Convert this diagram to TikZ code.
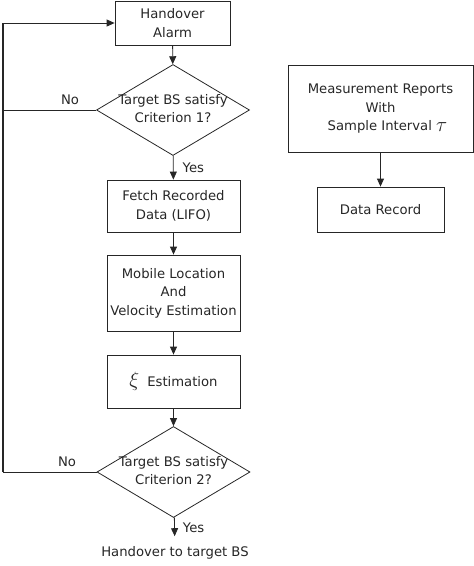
\documentclass[tikz,border=0pt]{standalone}
\usepackage{fontspec}
\setmainfont{DejaVu Sans}
\usetikzlibrary{shapes.geometric,arrows.meta}
\begin{document}
\begin{tikzpicture}[x=1pt,y=-1pt,
  font=\fontsize{13.2}{18.5}\selectfont,
  line width=0.8pt, draw=black!85, text=black!85,
  box/.style={draw, rectangle, align=center, inner sep=0pt},
  dec/.style={draw, diamond, inner sep=0pt, minimum width=153pt, minimum height=91pt},
  arr/.style={-{Triangle[length=8pt,width=7pt]}},
  lbl/.style={inner sep=1pt}]
\useasboundingbox (0,0) rectangle (474,566);
\node[box, minimum width=115pt, minimum height=44pt] (alarm) at (172.5,23) {Handover\\Alarm};
\node[dec] (d1) at (173,110) {\makebox[0pt]{\begin{tabular}{@{}c@{}}Target BS satisfy\\Criterion 1?\end{tabular}}};
\node[box, minimum width=133pt, minimum height=52pt] (fetch) at (173.5,206) {Fetch Recorded\\Data (LIFO)};
\node[box, minimum width=133pt, minimum height=76pt] (mobile) at (173.5,293) {\makebox[0pt]{\begin{tabular}{@{}c@{}}Mobile Location\\And\\Velocity Estimation\end{tabular}}};
\node[box, minimum width=133pt, minimum height=53pt] (xi) at (173.5,381.5) {{\huge$\xi$}\hspace{8pt}Estimation};
\node[dec] (d2) at (173.5,472) {\makebox[0pt]{\begin{tabular}{@{}c@{}}Target BS satisfy\\Criterion 2?\end{tabular}}};
\node[inner xsep=2pt, inner ysep=10pt] (end) at (175,553) {Handover to target BS};
\node[box, minimum width=185pt, minimum height=87pt] (meas) at (380.5,108.5) {\begin{tabular}{@{}c@{}}Measurement Reports\\With\\\hspace{14pt}Sample Interval \raisebox{-1pt}{\huge$\tau$}\end{tabular}};
\node[box, minimum width=127pt, minimum height=45pt] (rec) at (380.5,209.5) {Data Record};
\coordinate (l1) at (3,110);
\coordinate (l2) at (3,472);
\draw[arr] (alarm) -- (d1);
\draw[arr] (d1) -- node[lbl, right, pos=0.5, xshift=8pt] (yes1) {Yes} (fetch);
\draw[arr] (fetch) -- (mobile);
\draw[arr] (mobile) -- (xi);
\draw[arr] (xi) -- (d2);
\draw[arr] (d2) -- node[lbl, right, pos=0.55, xshift=7pt] (yes2) {Yes} (end);
\draw[arr] (meas) -- (rec);
\draw (d1.west) -- (l1);
\draw[arr] (d2.west) -- (l2) |- (alarm.west);
\draw[line width=1.6pt] (l2) -- (3,23);
\node[lbl] (no1) at (70,100) {No};
\node[lbl] (no2) at (67,462) {No};
\end{tikzpicture}
\end{document}
